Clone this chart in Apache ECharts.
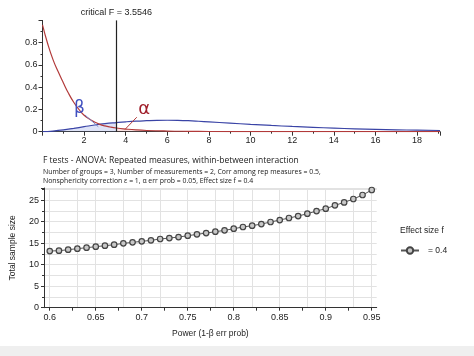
<!DOCTYPE html>
<html>
<head>
<meta charset="utf-8">
<script src="https://cdn.jsdelivr.net/npm/echarts@6/dist/echarts.min.js"></script>
<style>html,body{margin:0;padding:0;background:#fff}#c{width:474px;height:356px}</style>
</head>
<body>
<div id="c"></div>
<script>
// ---- Top chart: central (H0) and noncentral (H1) F densities ----
const critF = 3.5546;
const redX = [0, 0.25, 0.5, 0.75, 1, 1.25, 1.5, 1.75, 2, 2.25, 2.5, 2.75, 3, 3.25, 3.5546, 4, 4.5, 5, 6, 7, 8, 10, 12, 14, 16, 19.1];
const redY = [0.96, 0.79, 0.65, 0.54, 0.44, 0.345, 0.265, 0.2, 0.148, 0.114, 0.087, 0.066, 0.052, 0.042, 0.033, 0.024, 0.016, 0.011, 0.006, 0.0035, 0.002, 0.0008, 0.0003, 0.0001, 0.00005, 0.00002];
const blueX = [0, 0.5, 1, 1.5, 2, 2.5, 3, 3.5546, 4, 4.5, 5, 5.5, 6, 6.5, 7, 7.5, 8, 9, 10, 11, 12, 13, 14, 15, 16, 17, 18, 19.1];
const blueY = [0, 0.006, 0.016, 0.03, 0.045, 0.06, 0.072, 0.082, 0.089, 0.095, 0.099, 0.102, 0.103, 0.102, 0.099, 0.094, 0.088, 0.077, 0.066, 0.056, 0.047, 0.039, 0.032, 0.026, 0.021, 0.017, 0.014, 0.011];
const topXTicks = [2, 4, 6, 8, 10, 12, 14, 16, 18];
const topYTicks = [0, 0.2, 0.4, 0.6, 0.8];

// ---- Bottom chart: total sample size vs power ----
const power = [0.60,0.61,0.62,0.63,0.64,0.65,0.66,0.67,0.68,0.69,0.70,0.71,0.72,0.73,0.74,0.75,0.76,0.77,0.78,0.79,0.80,0.81,0.82,0.83,0.84,0.85,0.86,0.87,0.88,0.89,0.90,0.91,0.92,0.93,0.94,0.95];
const sampleSize = [13.16,13.24,13.47,13.71,13.94,14.17,14.40,14.63,14.94,15.18,15.41,15.64,15.95,16.18,16.41,16.72,17.03,17.34,17.65,17.96,18.35,18.74,19.05,19.43,19.90,20.36,20.83,21.29,21.83,22.45,22.99,23.77,24.46,25.24,26.17,27.33];
const powerLabels = [0.6, 0.65, 0.7, 0.75, 0.8, 0.85, 0.9, 0.95];
const powerGrid = [0.6,0.625,0.65,0.675,0.7,0.725,0.75,0.775,0.8,0.825,0.85,0.875,0.9,0.925,0.95];
const effectSize = '= 0.4';

const FONT = 'Liberation Sans';
const pairs = (xs, ys) => xs.map((x, i) => [x, ys[i]]);
const redPairs = pairs(redX, redY);
const bluePairs = pairs(blueX, blueY);
const betaArea = bluePairs.filter(p => p[0] <= critF);
const alphaArea = redPairs.filter(p => p[0] >= critF);

const chart = echarts.init(document.getElementById('c'), null, {renderer: 'canvas'});
const axisTxt = {fontFamily: FONT, fontSize: 9, color: '#222'};

chart.setOption({
  animation: false,
  backgroundColor: '#fff',
  title: [
    {text: 'F tests - ANOVA: Repeated measures, within-between interaction', left: 43, top: 156, padding: 0,
     textStyle: {fontFamily: 'Open Sans', fontSize: 8.5, fontWeight: 500, color: '#1a1a1a'}},
    {text: 'Number of groups = 3, Number of measurements = 2, Corr among rep measures = 0.5,\nNonsphericity correction ε = 1, α err prob = 0.05, Effect size f = 0.4', left: 43, top: 168, padding: 0,
     textStyle: {fontFamily: 'Open Sans', fontSize: 6.9, fontWeight: 500, color: '#1a1a1a', lineHeight: 8.5}},
    {text: 'Effect size f', left: 400, top: 226, padding: 0,
     textStyle: {fontFamily: FONT, fontSize: 8.5, fontWeight: 'normal', color: '#222'}}
  ],
  legend: {
    left: 400, top: 246, padding: 0, itemWidth: 18, itemHeight: 8, itemGap: 4,
    data: [effectSize],
    textStyle: {fontFamily: FONT, fontSize: 8.5, color: '#222', padding: [0, 0, 0, 4]}
  },
  graphic: [
    {type: 'rect', shape: {x: 0, y: 346, width: 474, height: 10}, style: {fill: '#efefef'}, silent: true, z: -10}
  ],
  grid: [
    {left: 42.5, top: 20.4, width: 397.5, height: 111.3},
    {left: 43.3, top: 188, width: 333.4, height: 119.7}
  ],
  xAxis: [
    {type: 'value', gridIndex: 0, min: 0, max: 19.1, interval: 2,
     axisLine: {lineStyle: {color: '#333', width: 1}},
     axisTick: {length: 4, lineStyle: {color: '#333'}},
     minorTick: {show: true, splitNumber: 2, length: 2, lineStyle: {color: '#333'}},
     splitLine: {show: false},
     axisLabel: Object.assign({margin: 4, formatter: v => topXTicks.includes(v) ? String(v) : ''}, axisTxt)},
    {type: 'value', gridIndex: 1, min: 0.59375, max: 0.9554,
     axisLine: {lineStyle: {color: '#333'}},
     axisTick: {length: 3, customValues: powerGrid, lineStyle: {color: '#333'}},
     axisLabel: Object.assign({margin: 5, customValues: powerLabels, formatter: v => String(+(+v).toFixed(2))}, axisTxt),
     splitLine: {show: false},
     name: 'Power (1-β err prob)', nameLocation: 'middle', nameGap: 21,
     nameTextStyle: {fontFamily: FONT, fontSize: 8.5, color: '#222'}}
  ],
  yAxis: [
    {type: 'value', gridIndex: 0, min: 0, max: 1, interval: 0.2,
     axisLine: {show: true, lineStyle: {color: '#333'}},
     axisTick: {show: true, length: 4, lineStyle: {color: '#333'}},
     minorTick: {show: true, splitNumber: 2, length: 2, lineStyle: {color: '#333'}},
     splitLine: {show: false},
     axisLabel: Object.assign({margin: 5, formatter: v => {
       const hit = topYTicks.find(t => Math.abs(t - v) < 1e-9);
       return hit === undefined ? '' : (hit === 0 ? '0' : hit.toFixed(1));
     }}, axisTxt)},
    {type: 'value', gridIndex: 1, min: 0, max: 27.8, interval: 5,
     axisLine: {show: true, lineStyle: {color: '#333'}},
     axisTick: {show: true, length: 3, lineStyle: {color: '#333'}},
     minorTick: {show: true, splitNumber: 2, length: 2, lineStyle: {color: '#333'}},
     splitLine: {show: true, lineStyle: {color: '#e2e2e2'}},
     minorSplitLine: {show: true, lineStyle: {color: '#e2e2e2'}},
     axisLabel: Object.assign({margin: 5, formatter: v => (Math.abs(v % 5) < 1e-9 ? String(v) : '')}, axisTxt),
     name: 'Total sample size', nameLocation: 'middle', nameGap: 27,
     nameTextStyle: {fontFamily: FONT, fontSize: 8.5, color: '#222'}}
  ],
  series: [
    {type: 'line', name: 'beta', xAxisIndex: 0, yAxisIndex: 0, data: betaArea, smooth: true,
     showSymbol: false, lineStyle: {width: 0}, areaStyle: {color: 'rgba(130,150,225,0.38)'}, z: 1, silent: true},
    {type: 'line', name: 'alpha', xAxisIndex: 0, yAxisIndex: 0, data: alphaArea, smooth: true,
     showSymbol: false, lineStyle: {width: 0}, areaStyle: {color: 'rgba(220,120,120,0.3)'}, z: 1, silent: true},
    {type: 'line', name: 'H1', xAxisIndex: 0, yAxisIndex: 0, data: bluePairs, smooth: true,
     showSymbol: false, lineStyle: {color: '#3a44a6', width: 1.2}, z: 3, silent: true,
     markPoint: {symbol: 'circle', symbolSize: 1, itemStyle: {color: 'rgba(0,0,0,0)'}, silent: true,
       data: [{coord: [1.77, 0.21], label: {show: true, formatter: 'β', fontSize: 17, color: '#4050c0', fontFamily: 'DejaVu Sans', position: 'inside'}}]},
     markLine: {symbol: 'none', silent: true, label: {show: false}, lineStyle: {color: '#7a86c8', width: 1, type: 'solid'},
       data: [[{coord: [2.04, 0.15]}, {coord: [2.68, 0.045]}]]}},
    {type: 'line', name: 'H0', xAxisIndex: 0, yAxisIndex: 0, data: redPairs, smooth: true,
     showSymbol: false, lineStyle: {color: '#b23a3a', width: 1.2}, z: 4, silent: true,
     markPoint: {symbol: 'circle', symbolSize: 1, itemStyle: {color: 'rgba(0,0,0,0)'}, silent: true,
       data: [{coord: [4.88, 0.2], label: {show: true, formatter: 'α', fontSize: 18, color: '#a01e2a', fontFamily: 'DejaVu Sans', position: 'inside'}}]},
     markLine: {symbol: 'none', silent: true, lineStyle: {width: 1, type: 'solid'},
       data: [
         [{coord: [4.53, 0.13], lineStyle: {color: '#b23a3a'}, label: {show: false}}, {coord: [3.97, 0.022]}],
         [{coord: [critF, 0], lineStyle: {color: '#222', width: 1.2}, label: {show: true, position: 'end', formatter: 'critical F = ' + critF, fontFamily: FONT, fontSize: 9, color: '#222', distance: 3}}, {coord: [critF, 1]}]
       ]}},
    {type: 'line', name: effectSize, xAxisIndex: 1, yAxisIndex: 1, data: pairs(power, sampleSize),
     symbol: 'circle', symbolSize: 5.5, showSymbol: true,
     lineStyle: {color: '#555', width: 1}, itemStyle: {color: '#c8c8c8', borderColor: '#444', borderWidth: 1.2}, z: 5,
     markLine: {symbol: 'none', silent: true, label: {show: false}, lineStyle: {color: '#e2e2e2', width: 1, type: 'solid'}, z: 0,
       data: powerGrid.map(v => ({xAxis: v}))}}
  ]
});
</script>
</body>
</html>
